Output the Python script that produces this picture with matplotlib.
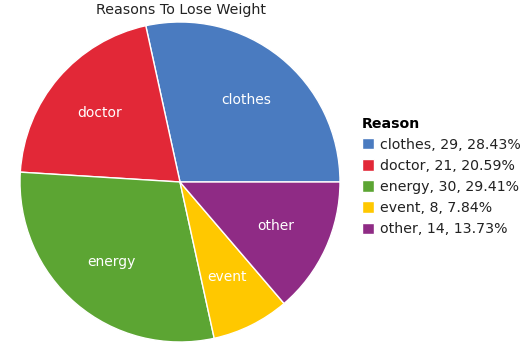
import matplotlib
matplotlib.use("Agg")
import matplotlib.pyplot as plt

categories = ["clothes", "doctor", "energy", "event", "other"]
values = [29, 21, 30, 8, 14]
colors = ["#4a7bc0", "#e22837", "#5ca533", "#ffc800", "#8f2b85"]
title = "Reasons To Lose Weight"
legend_title = "Reason"

total = sum(values)
legend_labels = [f"{c}, {v}, {v / total * 100:.2f}%" for c, v in zip(categories, values)]

W, H = 530, 363
fig = plt.figure(figsize=(W / 100, H / 100), dpi=100)
cx, cy, r = 180, 182, 160
ax = fig.add_axes([(cx - r) / W, (H - cy - r) / H, 2 * r / W, 2 * r / H])

wedges, texts = ax.pie(values, labels=categories, colors=colors, startangle=0,
                       counterclock=True, labeldistance=0.66,
                       wedgeprops=dict(edgecolor="white", linewidth=1),
                       textprops=dict(color="white", fontsize=10, ha="center", va="center"))
for t in texts:
    t.set_ha("center")
    t.set_va("center")
ax.set_aspect("equal")
ax.set_xlim(-1, 1)
ax.set_ylim(-1, 1)

fig.text(181 / W, 1 - 10 / H, title, ha="center", va="center", fontsize=10.3, color="#222222")

leg = fig.legend(wedges, legend_labels, title=legend_title, loc="upper left",
                 bbox_to_anchor=(356 / W, 1 - 111 / H), frameon=False,
                 fontsize=10.2, title_fontproperties=dict(weight="bold", size=10.2),
                 handlelength=0.85, handleheight=0.85, handletextpad=0.45,
                 labelspacing=0.5, alignment="left", borderaxespad=0)
for t in leg.get_texts():
    t.set_color("#222222")

fig.savefig("out.png", dpi=100)
